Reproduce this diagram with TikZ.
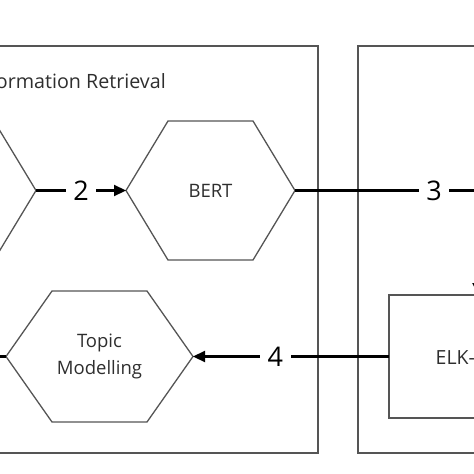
\documentclass[tikz,border=0pt]{standalone}
\usepackage{fontspec}
\setmainfont{Open Sans}
\usetikzlibrary{arrows.meta}
\definecolor{boxgray}{HTML}{555555}
\definecolor{txtgray}{HTML}{2E2E2E}
\tikzset{
  container/.style={draw=boxgray, line width=1.5pt},
  hexline/.style={draw=boxgray, line width=1.3pt, line join=miter},
  hexbox/.style={draw=none, inner sep=0pt, outer sep=0pt, align=center,
    text=txtgray, font=\fontsize{18.5}{27.5}\selectfont},
  elkbox/.style={draw=boxgray, line width=1.5pt, inner sep=0pt, outer sep=0pt},
  conn/.style={draw=black, line width=2.2pt, -{Triangle[length=12pt,width=11pt]}},
  plain/.style={draw=black, line width=2.2pt},
  lab/.style={fill=white, text=black, font=\fontsize{27}{30}\selectfont,
    inner xsep=7.5pt, inner ysep=2pt},
  ttl/.style={text=txtgray, font=\fontsize{19.7}{24}\selectfont, inner sep=0pt}
}
\newcommand\drawhex[2]{%
  \draw[hexline] (#1.west) -- ([xshift=#2]#1.north west) -- ([xshift=-#2]#1.north east)
    -- (#1.east) -- ([xshift=-#2]#1.south east) -- ([xshift=#2]#1.south west) -- cycle;}
\begin{document}
\begin{tikzpicture}[x=1pt, y=-1pt]
\useasboundingbox (0,0) rectangle (474,474);
\clip (0,0) rectangle (474,474);
% containers
\draw[container] (-20,46) rectangle (318,453);
\draw[container] (358,46) rectangle (520,453);
\node[ttl, anchor=base east] (title) at (166,88) {Information Retrieval};
% hexagons
\node[hexbox, minimum width=169pt, minimum height=139pt] (src) at (-48.5,190.5) {};
\node[hexbox, minimum width=169pt, minimum height=139pt] (bert) at (210.5,190.5) {BERT};
\node[hexbox, minimum width=187pt, minimum height=131pt] (topic) at (99.5,356.5) {Topic\\Modelling};
\drawhex{src}{42pt}
\drawhex{bert}{42pt}
\drawhex{topic}{46pt}
% ELK box
\node[elkbox, minimum width=171pt, minimum height=123pt] (elk) at (474.5,356.5) {};
\node[text=txtgray, font=\fontsize{19.5}{23}\selectfont, inner sep=0pt, anchor=west] (elkt) at (435.5,357) {ELK-Stack};
% connectors
\coordinate (c3) at (478,190.5);
\coordinate (lout) at (-20,356.5);
\draw[conn] (src.east) -- node[lab] {2} (bert.west);
\draw[conn] (bert.east) -- node[lab, pos=0.76] {3} (c3) -- (c3 |- elk.north);
\draw[conn] (elk.west) -- node[lab, pos=0.58] {4} (topic.east);
\draw[plain] (topic.west) -- (lout);
\end{tikzpicture}
\end{document}
